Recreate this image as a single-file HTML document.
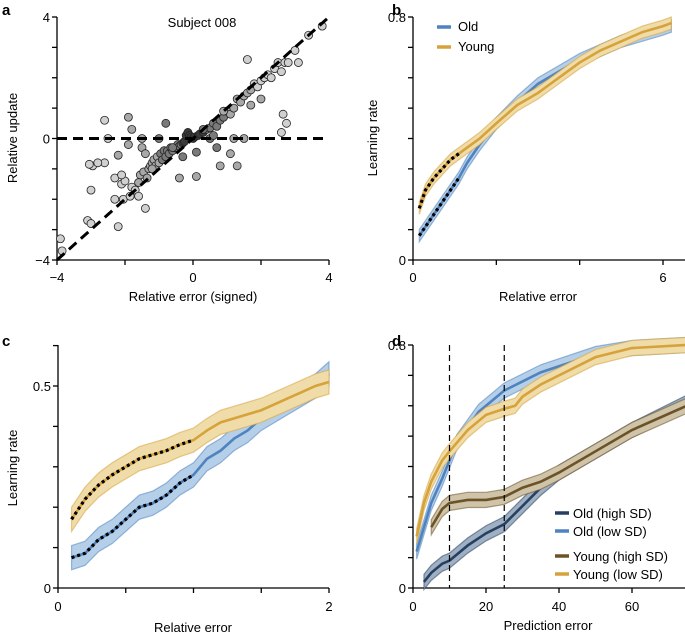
<!DOCTYPE html>
<html><head><meta charset="utf-8">
<style>
html,body{margin:0;padding:0;background:#fff;}
svg{display:block;font-family:"Liberation Sans",Arial,sans-serif;}
</style></head>
<body>
<svg id="fig" width="685" height="635" viewBox="0 0 685 635" xmlns="http://www.w3.org/2000/svg">
<text x="2" y="15" font-size="15" font-weight="bold">a</text>
<text x="392" y="15" font-size="15" font-weight="bold">b</text>
<text x="2" y="346" font-size="15" font-weight="bold">c</text>
<text x="392" y="346" font-size="15" font-weight="bold">d</text>

<text x="202" y="27" font-size="13" text-anchor="middle">Subject 008</text>
<text transform="translate(17,138) rotate(-90)" font-size="13" text-anchor="middle">Relative update</text>
<text x="193" y="301" font-size="13" text-anchor="middle">Relative error (signed)</text>
<text transform="translate(377,138) rotate(-90)" font-size="13" text-anchor="middle">Learning rate</text>
<text x="538" y="301" font-size="13" text-anchor="middle">Relative error</text>
<text transform="translate(17,468) rotate(-90)" font-size="13" text-anchor="middle">Learning rate</text>
<text x="193" y="632" font-size="13" text-anchor="middle">Relative error</text>
<text x="548" y="630" font-size="13" text-anchor="middle">Prediction error</text>
<g id="layer"></g>
</svg>
<script>
// ---- Panel a data (scatter) ----
const scatterX = [-3.9,-3.85,-3.1,-3.0,-2.95,-3.05,-2.6,-2.3,-2.2,-2.1,-2.05,-2.0,-1.9,-1.85,-1.8,-1.7,-1.6,-1.55,-1.5,-1.45,-1.4,-1.35,-1.3,-1.25,-1.2,-1.15,-1.1,-1.05,-1.0,-0.95,-0.9,-0.85,-0.8,-0.75,-0.7,-0.65,-0.6,-0.55,-0.5,-0.45,-0.4,-0.35,-0.3,-0.25,-0.2,-0.15,-0.1,-0.05,0.0,0.05,0.1,0.15,0.2,0.3,0.4,0.5,0.6,0.7,0.8,0.9,1.0,1.1,1.2,1.3,1.4,1.5,1.6,1.7,1.8,1.9,2.0,2.1,2.2,2.3,2.4,2.5,2.6,2.7,2.8,3.0,3.1,3.4,3.8,1.6,2.65,2.75,2.6,-1.9,-2.5,-3.0,-2.8,-2.1,-1.6,-1.2,-0.8,-0.6,-0.3,-1.5,-1.8,-2.3,0.8,1.1,1.3,1.5,0.9,0.5,0.3,0.6,-1.0,-0.4,1.2,2.0,1.7,-2.6,-2.2,-1.4,0.1,0.7];
const scatterY = [-3.3,-3.7,-2.7,-2.8,-0.9,-0.85,-0.8,-1.3,-0.55,-1.5,-2.0,-1.4,-0.2,-1.9,-1.6,-1.7,-1.9,-1.2,-0.3,-1.1,-0.5,-1.3,-1.0,-0.9,-0.8,-0.7,-0.9,-0.6,-0.8,-0.5,-0.7,-0.4,-0.6,-0.4,-0.5,-0.3,-0.4,-0.3,-0.3,-0.2,-0.25,-0.2,-0.15,-0.1,0.1,0.2,0.1,0.05,0.0,0.05,-0.45,0.1,0.15,0.2,0.3,0.35,0.5,0.4,0.6,0.7,0.9,0.8,1.0,1.3,1.2,1.4,1.5,1.6,1.8,1.7,1.9,2.0,2.1,2.0,2.3,2.5,2.2,2.5,2.5,2.9,2.5,3.4,3.7,2.6,0.8,0.5,0.2,0.7,0.0,-1.7,-0.8,-1.2,-1.45,-1.0,0.5,-0.3,-0.6,0.0,0.3,-2.0,-0.9,-0.5,-0.9,0.0,0.9,0.0,0.3,0.1,0.0,-1.3,0.0,1.3,1.1,0.6,-2.9,-2.3,-1.25,-0.3,0.0];

// ---- Panel b data ----
const bOldX = [0.15,0.3,0.5,0.7,0.9,1.1,1.3,1.6,2.0,2.5,3.0,3.5,4.0,4.5,5.0,5.5,6.0,6.2];
const bOldY = [0.08,0.11,0.15,0.19,0.23,0.27,0.32,0.38,0.45,0.52,0.58,0.62,0.66,0.69,0.72,0.74,0.76,0.77];
const bYoungX = [0.15,0.3,0.5,0.7,0.9,1.1,1.3,1.6,2.0,2.5,3.0,3.5,4.0,4.5,5.0,5.5,6.0,6.2];
const bYoungY = [0.17,0.23,0.27,0.30,0.33,0.35,0.37,0.40,0.45,0.51,0.55,0.60,0.65,0.69,0.72,0.75,0.77,0.78];
const bDotMax = 1.2;

// ---- Panel c data ----
const cOldX = [0.1,0.2,0.3,0.4,0.5,0.6,0.7,0.8,0.9,1.0,1.1,1.2,1.3,1.4,1.5,1.6,1.7,1.8,1.9,2.0];
const cOldY = [0.075,0.086,0.12,0.14,0.17,0.20,0.21,0.23,0.26,0.28,0.32,0.34,0.37,0.39,0.42,0.44,0.46,0.48,0.50,0.53];
const cYoungX = [0.1,0.2,0.3,0.4,0.5,0.6,0.7,0.8,0.9,1.0,1.1,1.2,1.3,1.4,1.5,1.6,1.7,1.8,1.9,2.0];
const cYoungY = [0.17,0.22,0.255,0.28,0.30,0.32,0.33,0.34,0.355,0.366,0.39,0.41,0.42,0.43,0.44,0.455,0.47,0.485,0.50,0.51];
const cDotMax = 1.0;

// ---- Panel d data ----
const dOldLowX = [1,3,5,8,10,12,15,18,20,25,30,35,40,50,60,75];
const dOldLowY = [0.12,0.20,0.28,0.36,0.42,0.48,0.53,0.58,0.60,0.65,0.68,0.71,0.73,0.77,0.79,0.80];
const dYoungLowX = [1,3,5,8,10,15,20,25,28,30,35,40,50,60,75];
const dYoungLowY = [0.17,0.28,0.35,0.42,0.45,0.52,0.57,0.59,0.60,0.63,0.67,0.70,0.76,0.79,0.80];
const dOldHighX = [3,5,8,10,15,20,25,30,35,40,50,60,75];
const dOldHighY = [0.02,0.05,0.08,0.09,0.14,0.18,0.21,0.27,0.33,0.38,0.45,0.52,0.61];
const dYoungHighX = [5,8,10,15,20,25,30,35,40,50,60,75];
const dYoungHighY = [0.20,0.26,0.28,0.29,0.29,0.30,0.33,0.35,0.38,0.45,0.52,0.60];
const dVLines = [10,25];

const aTicksY = [-4,-3,-2,-1,0,1,2,3,4];
const aTicksX = [-4,-2,0,2,4];
const aLabelsX = ["\u22124","0","4"];
const legendD = ["Old (high SD)","Old (low SD)","Young (high SD)","Young (low SD)"];

const NS="http://www.w3.org/2000/svg";
const layer=document.getElementById('layer');
function mk(tag,attrs,parent){const e=document.createElementNS(NS,tag);for(const k in attrs)e.setAttribute(k,attrs[k]);(parent||layer).appendChild(e);return e;}
function lin(d0,d1,r0,r1){return v=>r0+(v-d0)/(d1-d0)*(r1-r0);}
function txt(x,y,s,anchor,name){const t=mk('text',{x:x,y:y,'font-size':13,'text-anchor':anchor||'middle'});t.textContent=s;


return t;}

function axes(x0,y0,x1,y1,name){
  const g=mk('g',{stroke:'#000','stroke-width':1.3,fill:'none'});
  
  
  mk('line',{x1:x0,y1:y0,x2:x0,y2:y1},g);
  mk('line',{x1:x0,y1:y1,x2:x1,y2:y1},g);
  return g;
}

// ---------- Panel a ----------
(function(){
  const sx=lin(-4,4,57,329), sy=lin(-4,4,260,17);
  const g=axes(57,17,329,260,'a-axes');
  aTicksY.forEach(v=>mk('line',{x1:52,y1:sy(v),x2:57,y2:sy(v)},g));
  aTicksX.forEach(v=>mk('line',{x1:sx(v),y1:260,x2:sx(v),y2:265},g));
  txt(50,sy(4)+5,'4','end','a-y-tick-label');
  txt(50,sy(0)+5,'0','end','a-y-tick-label');
  txt(50,sy(-4)+5,'\u22124','end','a-y-tick-label');
  [-4,0,4].forEach((v,i)=>txt(sx(v),282,aLabelsX[i],'middle','a-x-tick-label'));
  const pts=mk('g',{});
  
  
  scatterX.forEach((x,i)=>{
    const y=scatterY[i];
    const r=Math.hypot(x,y);
    const f=r<0.4?'#3a3a3a':(r<1.2?'#7a7a7a':(r<2.4?'#a8a8a8':'#d0d0d0'));
    const c=mk('circle',{cx:sx(x),cy:sy(y),r:4,fill:f,stroke:'#222','stroke-width':0.8},pts);
    
    
  });
  const d1=mk('line',{x1:sx(-4),y1:sy(-4),x2:sx(4),y2:sy(4),stroke:'#000','stroke-width':3,'stroke-dasharray':'10,6'});
  
  
  const d2=mk('line',{x1:sx(-4),y1:sy(0),x2:sx(4),y2:sy(0),stroke:'#000','stroke-width':3,'stroke-dasharray':'10,6'});
  
  
})();

function band(xs,ys,sx,sy,col,bandCol,w,name){
  const up=xs.map((x,i)=>sx(x)+','+sy(ys[i]+w));
  const dn=xs.map((x,i)=>sx(x)+','+sy(ys[i]-w)).reverse();
  const p=mk('polygon',{points:up.concat(dn).join(' '),fill:bandCol,stroke:col,'stroke-width':1.2,'stroke-opacity':0.55});
  
  
  const l=mk('polyline',{points:xs.map((x,i)=>sx(x)+','+sy(ys[i])).join(' '),fill:'none',stroke:col,'stroke-width':2.6});
  
  
}
function dots(xs,ys,sx,sy,maxX,name){
  const pts=[];xs.forEach((x,i)=>{if(x<=maxX+1e-9)pts.push(sx(x)+','+sy(ys[i]));});
  const l=mk('polyline',{points:pts.join(' '),fill:'none',stroke:'#000','stroke-width':3.2,'stroke-dasharray':'3,3'});
  
  
}

const OLD='#4f83bf', OLDB='#b5cfe8', YNG='#d6a23a', YNGB='#f0dca8';

// ---------- Panel b ----------
(function(){
  const sx=lin(0,6,413,663), sy=lin(0,0.8,260,17);
  const g=axes(413,17,685,260,'b-axes');
  for(let v=0;v<=0.8001;v+=0.1)mk('line',{x1:408,y1:sy(v),x2:413,y2:sy(v)},g);
  [0,2,4,6].forEach(v=>mk('line',{x1:sx(v),y1:260,x2:sx(v),y2:265},g));
  txt(406,sy(0.8)+5,'0.8','end','b-y-tick-label');
  txt(406,sy(0)+5,'0','end','b-y-tick-label');
  txt(sx(0),282,'0','middle','b-x-tick-label');
  txt(sx(6),282,'6','middle','b-x-tick-label');
  band(bOldX,bOldY,sx,sy,OLD,OLDB,0.02,'b-old');
  band(bYoungX,bYoungY,sx,sy,YNG,YNGB,0.02,'b-young');
  dots(bOldX,bOldY,sx,sy,bDotMax,'b-old-significant');
  dots(bYoungX,bYoungY,sx,sy,bDotMax,'b-young-significant');
  const lg=mk('g',{});
  
  
  mk('line',{x1:437,y1:27,x2:451,y2:27,stroke:OLD,'stroke-width':3.5},lg);
  mk('line',{x1:437,y1:47,x2:451,y2:47,stroke:YNG,'stroke-width':3.5},lg);
  txt(458,31,'Old','start','b-legend-old');
  txt(458,51,'Young','start','b-legend-young');
})();

// ---------- Panel c ----------
(function(){
  const sx=lin(0,2,58,329), sy=lin(0,0.5,588,386);
  const g=axes(58,345,329,588,'c-axes');
  for(let v=0;v<=0.6001;v+=0.1)mk('line',{x1:53,y1:sy(v),x2:58,y2:sy(v)},g);
  for(let v=0;v<=2.0001;v+=0.5)mk('line',{x1:sx(v),y1:588,x2:sx(v),y2:593},g);
  txt(51,sy(0.5)+5,'0.5','end','c-y-tick-label');
  txt(51,sy(0)+5,'0','end','c-y-tick-label');
  txt(sx(0),611,'0','middle','c-x-tick-label');
  txt(sx(2),611,'2','middle','c-x-tick-label');
  band(cOldX,cOldY,sx,sy,OLD,OLDB,0.03,'c-old');
  band(cYoungX,cYoungY,sx,sy,YNG,YNGB,0.03,'c-young');
  dots(cOldX,cOldY,sx,sy,cDotMax,'c-old-significant');
  dots(cYoungX,cYoungY,sx,sy,cDotMax,'c-young-significant');
})();

// ---------- Panel d ----------
(function(){
  const sx=lin(0,60,413,632), sy=lin(0,0.8,588,345);
  const g=axes(413,345,685,588,'d-axes');
  for(let v=0;v<=0.8001;v+=0.1)mk('line',{x1:408,y1:sy(v),x2:413,y2:sy(v)},g);
  [0,20,40,60].forEach(v=>mk('line',{x1:sx(v),y1:588,x2:sx(v),y2:593},g));
  txt(406,sy(0.8)+5,'0.8','end','d-y-tick-label');
  txt(406,sy(0)+5,'0','end','d-y-tick-label');
  [0,20,40,60].forEach(v=>txt(sx(v),611,String(v),'middle','d-x-tick-label'));
  band(dOldHighX,dOldHighY,sx,sy,'#27405f','#9fb0c4',0.025,'d-old-high');
  band(dYoungHighX,dYoungHighY,sx,sy,'#6b5228','#cfc3a8',0.025,'d-young-high');
  band(dOldLowX,dOldLowY,sx,sy,OLD,OLDB,0.025,'d-old-low');
  band(dYoungLowX,dYoungLowY,sx,sy,YNG,YNGB,0.025,'d-young-low');
  dVLines.forEach(v=>{
    const l=mk('line',{x1:sx(v),y1:345,x2:sx(v),y2:588,stroke:'#000','stroke-width':1.2,'stroke-dasharray':'6,4'});
    
    
  });
  const cols=['#27405f',OLD,'#6b5228',YNG];
  const ys=[513,531,556,574];
  const lg=mk('g',{});
  
  
  legendD.forEach((s,i)=>{
    mk('line',{x1:555,y1:ys[i],x2:569,y2:ys[i],stroke:cols[i],'stroke-width':3.5},lg);
    txt(573,ys[i]+5,s,'start','d-legend-entry');
  });
})();
</script>
</body></html>
